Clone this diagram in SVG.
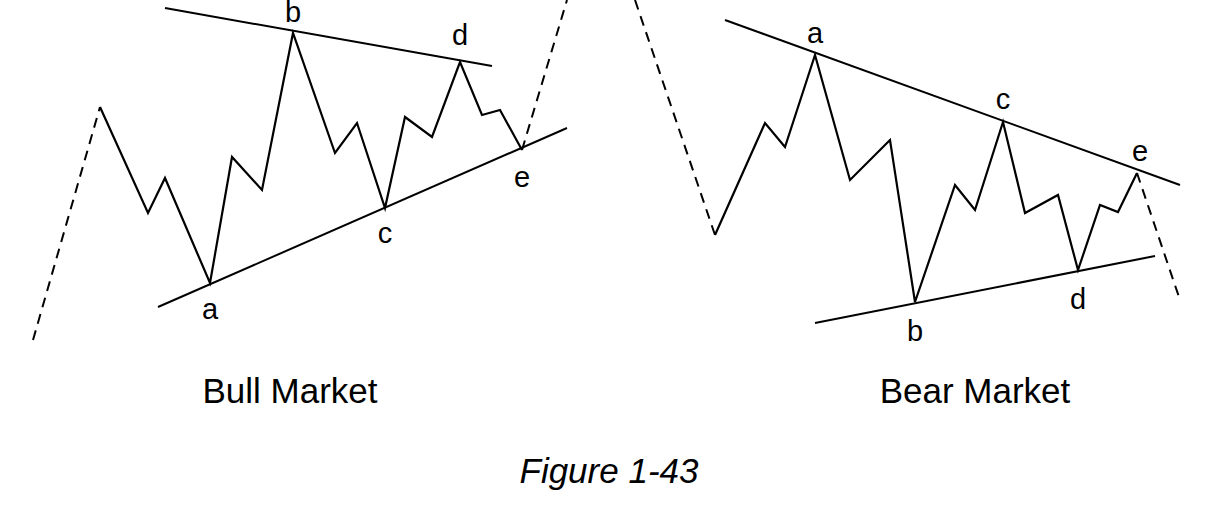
<svg xmlns="http://www.w3.org/2000/svg" width="1218" height="527" viewBox="0 0 1218 527">
<style>
.s{fill:none;stroke:#000;stroke-width:2.2;stroke-linejoin:miter}
.d{fill:none;stroke:#000;stroke-width:2;stroke-dasharray:10,7}
.t{fill:none;stroke:#000;stroke-width:2}
.l{font-family:"Liberation Sans",Arial,sans-serif;font-size:29px;text-anchor:middle;fill:#000}
.c{font-family:"Liberation Sans",Arial,sans-serif;font-size:35px;text-anchor:middle;fill:#000}
</style>
<rect width="1218" height="527" fill="#fff"/>
<g id="connectors">
<line class="t" x1="165" y1="8" x2="492" y2="66"/>
<line class="t" x1="158" y1="307" x2="567" y2="128"/>
<line class="t" x1="725" y1="20" x2="1180" y2="185"/>
<line class="t" x1="815" y1="323" x2="1155" y2="256"/>
<polyline class="d" points="33,340 100,107"/>
<polyline class="d" points="522,150 567,0"/>
<polyline class="d" points="635,0 715,235"/>
<polyline class="d" points="1137,173 1180,300"/>
</g>
<g id="bull-wave"><polyline class="s" points="100,107 148,213 165,178 210,283 232,157 262,190 293,33 335,153 357,123 385,208 405,117 432,137 460,62 482,115 500,110 522,150"/></g>
<g id="bear-wave"><polyline class="s" points="715,235 765,123 785,147 815,55 850,180 890,140 915,302 955,185 975,210 1003,122 1025,213 1058,195 1078,270 1100,205 1118,212 1137,173"/></g>
<g id="bull-labels">
<text class="l" x="293" y="22">b</text>
<text class="l" x="460" y="45">d</text>
<text class="l" x="522" y="187">e</text>
<text class="l" x="385" y="243">c</text>
<text class="l" x="210" y="319">a</text>
</g>
<g id="bear-labels">
<text class="l" x="815" y="43">a</text>
<text class="l" x="1003" y="109">c</text>
<text class="l" x="1140" y="161">e</text>
<text class="l" x="1078" y="309">d</text>
<text class="l" x="915" y="341">b</text>
</g>
<g id="captions">
<text class="c" x="290" y="403">Bull Market</text>
<text class="c" x="975" y="403">Bear Market</text>
<text class="c" x="609" y="483" font-style="italic" font-size="38">Figure 1-43</text>
</g>
</svg>
